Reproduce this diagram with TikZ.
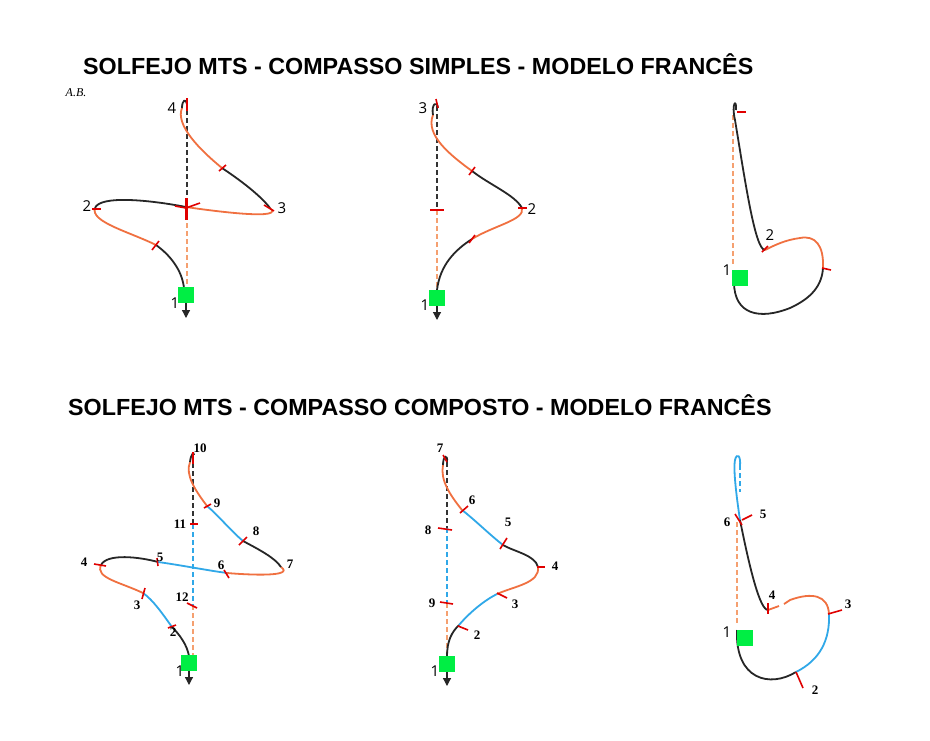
\documentclass[tikz,border=0pt]{standalone}
\usepackage{fontspec}
\setmainfont{Liberation Serif}
\setsansfont{Open Sans}
\newfontfamily\titlefont{Liberation Sans}
\usetikzlibrary{arrows.meta}
\definecolor{orng}{HTML}{F07040}
\definecolor{blu}{HTML}{30A8E8}
\definecolor{tick}{HTML}{E00000}
\definecolor{grn}{HTML}{00EE44}
\definecolor{dorng}{HTML}{F5A070}
\tikzset{
 ln/.style={line width=1.8pt},
 bk/.style={ln,black!85},
 og/.style={ln,orng},
 bl/.style={ln,blu},
 dsh/.style={dashed,line width=1.1pt,dash pattern=on 5pt off 3pt},
 tk/.style={tick,line width=1.6pt},
 sq/.style={fill=grn,minimum size=16pt,inner sep=0pt},
 arr/.style={-{Triangle[length=8pt,width=8pt]},line width=1.2pt,black!85},
 lab/.style={font=\sffamily\fontsize{15}{15}\selectfont,inner sep=0pt},
 blab/.style={font=\bfseries\fontsize{13}{13}\selectfont,inner sep=0pt},
 ttl/.style={font=\titlefont\bfseries\fontsize{23.3}{24}\selectfont,anchor=west,inner sep=0pt}
}
\begin{document}
\begin{tikzpicture}[x=1pt,y=-1pt]
\useasboundingbox[fill=white] (0,0) rectangle (930,740);
\node[ttl] (t1) at (83,64) {SOLFEJO MTS - COMPASSO SIMPLES - MODELO FRANCÊS};
\node[ttl] (t2) at (68,405) {SOLFEJO MTS - COMPASSO COMPOSTO - MODELO FRANCÊS};
\node[font=\itshape\fontsize{12}{12}\selectfont,inner sep=0pt] (ab) at (76,93) {A.B.};

% ===== Fig 1 =====
\draw[dsh,black!80] (187,102) -- (187,207);
\draw[dsh,dorng] (187,207) -- (187,288);
\draw[bk] (184,288) .. controls (182,270) and (170,255) .. (156,245);
\draw[og] (156,245) .. controls (130,232) and (90,222) .. (95,208);
\draw[bk] (95,208) .. controls (100,195) and (150,200) .. (186,207);
\draw[og] (186,207) .. controls (220,212) and (285,220) .. (270,208);
\draw[bk] (270,208) .. controls (260,195) and (240,180) .. (222,168);
\draw[og] (222,168) .. controls (200,150) and (175,125) .. (182,108);
\draw[bk] (182,108) .. controls (182,100) and (186,98) .. (187,104);
\draw[tk] (187,98) -- (187,111);
\draw[tk,line width=3pt] (186,198) -- (186,220);
\draw[tk] (186,208) -- (200,203);
\draw[tk] (175,206) -- (186,208);
\draw[tk] (264,205) -- (274,211);
\draw[tk] (92,209) -- (101,209);
\draw[tk] (219,171) -- (226,165);
\draw[tk] (152,250) -- (159,241);
\node[sq] (g1) at (186,295) {};
\coordinate (a1) at (186,318);
\draw[arr] (g1.south) -- (a1);
\node[lab] (l1a) at (175,303) {1};
\node[lab] (l1b) at (87,206) {2};
\node[lab] (l1c) at (282,208) {3};
\node[lab] (l1d) at (172,108) {4};

% ===== Fig 2 =====
\draw[dsh,black!80] (437,106) -- (437,210);
\draw[dsh,dorng] (437,210) -- (437,290);
\draw[bk] (437,290) .. controls (440,265) and (455,250) .. (472,239);
\draw[og] (472,239) .. controls (495,225) and (525,220) .. (522,208);
\draw[bk] (522,208) .. controls (515,195) and (490,185) .. (472,171);
\draw[og] (472,171) .. controls (450,155) and (425,135) .. (433,115);
\draw[bk] (433,115) .. controls (431,104) and (437,100) .. (438,108);
\draw[tk] (436,99) -- (438,108);
\draw[tk] (430,210) -- (444,210);
\draw[tk,line width=2.6pt] (518,208) -- (527,208);
\draw[tk] (469,243) -- (475,235);
\draw[tk] (469,175) -- (475,167);
\node[sq] (g2) at (437,298) {};
\coordinate (a2) at (437,320);
\draw[arr] (g2.south) -- (a2);
\node[lab] (l2a) at (425,305) {1};
\node[lab] (l2b) at (532,209) {2};
\node[lab] (l2c) at (423,108) {3};

% ===== Fig 3 =====
\draw[dsh,dorng] (733,115) -- (733,266);
\draw[bk] (734,282) .. controls (734,315) and (760,320) .. (790,308) .. controls (812,298) and (822,285) .. (823,268);
\draw[og] (823,268) .. controls (824,245) and (815,235) .. (800,238) .. controls (785,240) and (775,245) .. (765,250);
\draw[bk] (765,250) .. controls (755,250) and (745,180) .. (735,120) .. controls (731,103) and (737,98) .. (736,110);
\draw[tk] (737,112) -- (746,112);
\draw[tk] (822,268) -- (831,270);
\draw[tk] (762,252) -- (768,246);
\node[sq] (g3) at (740,278) {};
\node[lab] (l3a) at (727,270) {1};
\node[lab] (l3b) at (770,235) {2};

% ===== Fig 4 =====
\draw[dsh,black!80] (193,455) -- (193,524);
\draw[dsh,blu] (193,524) -- (193,605);
\draw[dsh,dorng] (193,605) -- (193,655);
\draw[bk] (189,656) .. controls (187,645) and (180,635) .. (172,627);
\draw[bl] (172,627) .. controls (162,613) and (153,600) .. (143,593);
\draw[og] (143,593) .. controls (120,582) and (95,578) .. (101,565);
\draw[bk] (101,565) .. controls (107,553) and (140,557) .. (158,562);
\draw[bl] (158,562) .. controls (180,565) and (205,570) .. (227,573);
\draw[og] (227,573) .. controls (250,575) and (295,577) .. (281,567);
\draw[bk] (281,567) .. controls (275,558) and (260,550) .. (243,541);
\draw[bl] (243,541) .. controls (230,530) and (218,515) .. (207,506);
\draw[og] (207,506) .. controls (195,490) and (185,475) .. (190,462);
\draw[bk] (190,462) .. controls (191,453) and (194,452) .. (194,455);
\draw[tk] (193,452) -- (193,464);
\draw[tk] (190,524) -- (198,524);
\draw[tk] (187,603) -- (197,608);
\draw[tk] (168,628) -- (176,625);
\draw[tk] (142,599) -- (145,588);
\draw[tk] (94,564) -- (106,566);
\draw[tk] (157,558) -- (158,566);
\draw[tk] (224,570) -- (229,578);
\draw[tk] (239,545) -- (247,537);
\draw[tk] (204,508) -- (211,504);
\node[sq] (g4) at (189,663) {};
\coordinate (a4) at (189,685);
\draw[arr] (g4.south) -- (a4);
\node[lab] (l4a) at (180,671) {1};
\node[blab] (l4b) at (173,632) {2};
\node[blab] (l4c) at (137,605) {3};
\node[blab] (l4d) at (84,562) {4};
\node[blab] (l4e) at (160,557) {5};
\node[blab] (l4f) at (221,565) {6};
\node[blab] (l4g) at (290,564) {7};
\node[blab] (l4h) at (256,531) {8};
\node[blab] (l4i) at (217,503) {9};
\node[blab] (l4j) at (200,448) {10};
\node[blab] (l4k) at (180,524) {11};
\node[blab] (l4l) at (182,597) {12};

% ===== Fig 5 =====
\draw[dsh,black!80] (447,462) -- (447,528);
\draw[dsh,blu] (447,528) -- (447,603);
\draw[dsh,dorng] (447,603) -- (447,655);
\draw[bk] (447,657) .. controls (447,640) and (452,632) .. (459,625);
\draw[bl] (459,625) .. controls (470,612) and (485,600) .. (497,594);
\draw[og] (497,594) .. controls (515,586) and (540,583) .. (538,567);
\draw[bk] (538,567) .. controls (535,555) and (515,552) .. (503,545);
\draw[bl] (503,545) .. controls (490,535) and (475,520) .. (462,510);
\draw[og] (462,510) .. controls (450,495) and (440,480) .. (443,465);
\draw[bk] (443,465) .. controls (443,455) and (448,454) .. (447,462);
\draw[tk] (443,455) -- (447,462);
\draw[tk] (438,528) -- (452,530);
\draw[tk] (440,602) -- (453,604);
\draw[tk,line width=2.6pt] (537,567) -- (545,567);
\draw[tk] (497,593) -- (507,598);
\draw[tk] (458,626) -- (468,630);
\draw[tk] (500,549) -- (507,538);
\draw[tk] (460,513) -- (468,506);
\node[sq] (g5) at (447,664) {};
\coordinate (a5) at (447,686);
\draw[arr] (g5.south) -- (a5);
\node[lab] (l5a) at (435,671) {1};
\node[blab] (l5b) at (477,635) {2};
\node[blab] (l5c) at (515,604) {3};
\node[blab] (l5d) at (555,566) {4};
\node[blab] (l5e) at (508,522) {5};
\node[blab] (l5f) at (472,500) {6};
\node[blab] (l5g) at (440,448) {7};
\node[blab] (l5h) at (428,530) {8};
\node[blab] (l5i) at (432,603) {9};

% ===== Fig 6 =====
\draw[dsh,dorng] (737,522) -- (737,625);
\draw[dsh,blu] (740,465) -- (740,492);
\draw[bk] (737,630) .. controls (735,680) and (770,688) .. (796,672);
\draw[bl] (796,672) .. controls (820,660) and (830,640) .. (829,614);
\draw[og] (829,614) .. controls (828,595) and (812,592) .. (790,600) -- (784,604);
\draw[og] (779,606) -- (768,610);
\draw[bk] (768,610) .. controls (760,610) and (750,570) .. (740,520);
\draw[bl] (740,520) .. controls (737,500) and (733,470) .. (735,460) .. controls (737,452) and (741,456) .. (740,466);
\draw[tk] (768,603) -- (768,614);
\draw[tk] (828,614) -- (842,610);
\draw[tk] (796,672) -- (803,688);
\draw[tk] (735,514) -- (742,525);
\draw[tk] (742,520) -- (752,515);
\node[sq] (g6) at (745,638) {};
\node[lab] (l6a) at (727,632) {1};
\node[blab] (l6b) at (815,690) {2};
\node[blab] (l6c) at (848,604) {3};
\node[blab] (l6d) at (772,595) {4};
\node[blab] (l6e) at (763,514) {5};
\node[blab] (l6f) at (727,522) {6};
\end{tikzpicture}
\end{document}
